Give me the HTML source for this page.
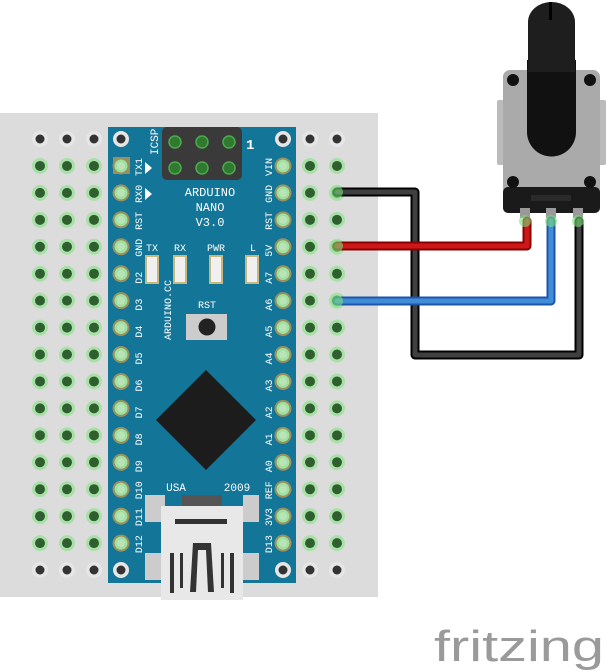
<!DOCTYPE html>
<html><head><style>body{margin:0;background:#fff}svg{display:block}</style></head><body>
<svg width="606" height="672" viewBox="0 0 606 672" xmlns="http://www.w3.org/2000/svg" font-family="Liberation Mono, monospace">
<defs>
<g id="gh"><circle r="8" fill="#e6e6e6"/><circle r="4.5" fill="#333"/></g>
<g id="gr"><circle r="8" fill="#a8e0a8"/><circle r="5" fill="#2f5e2f"/></g>
<g id="bp"><circle r="8.5" fill="#9c8f5e"/><circle r="6.5" fill="#9ee09e"/><circle r="4" fill="#b8e4b8"/></g>
</defs>
<rect x="0" y="113" width="378" height="484" fill="#dcdcdc"/>
<g>
<use href="#gh" x="40" y="139"/><use href="#gh" x="67" y="139"/><use href="#gh" x="94" y="139"/><use href="#gh" x="310" y="139"/><use href="#gh" x="337" y="139"/>
<use href="#gh" x="40" y="570"/><use href="#gh" x="67" y="570"/><use href="#gh" x="94" y="570"/><use href="#gh" x="310" y="570"/><use href="#gh" x="337" y="570"/>
</g>
<g id="greens"></g>
<rect x="108" y="127" width="188" height="456" fill="#137597"/>
<circle cx="121" cy="139" r="8" fill="#e6e6e6"/><circle cx="121" cy="139" r="4.5" fill="#333"/>
<circle cx="283" cy="139" r="8" fill="#e6e6e6"/><circle cx="283" cy="139" r="4.5" fill="#333"/>
<circle cx="121" cy="570" r="8" fill="#e6e6e6"/><circle cx="121" cy="570" r="4.5" fill="#333"/>
<circle cx="283" cy="570" r="8" fill="#e6e6e6"/><circle cx="283" cy="570" r="4.5" fill="#333"/>
<rect x="113" y="157" width="17" height="17" fill="#9c8f5e"/>
<g id="pins"></g>
<rect x="162" y="127" width="80" height="53" rx="5" fill="#3a3a3a"/>
<g fill="#2f7a2f" stroke="#4caa4c" stroke-width="1.5"><circle cx="175" cy="142" r="6"/><circle cx="202" cy="142" r="6"/><circle cx="229" cy="142" r="6"/><circle cx="175" cy="168" r="6"/><circle cx="202" cy="168" r="6"/><circle cx="229" cy="168" r="6"/></g>
<g fill="#fff" font-size="11">
<text transform="translate(158,155) rotate(-90)">ICSP</text>
<text x="246" y="149" font-size="14" font-weight="bold">1</text>
<text x="210" y="196" text-anchor="middle" font-size="12">ARDUINO</text>
<text x="210" y="211" text-anchor="middle" font-size="12">NANO</text>
<text x="210" y="226" text-anchor="middle" font-size="12">V3.0</text>
<text x="152" y="251" text-anchor="middle" font-size="10">TX</text>
<text x="180" y="251" text-anchor="middle" font-size="10">RX</text>
<text x="216" y="251" text-anchor="middle" font-size="10">PWR</text>
<text x="253" y="251" text-anchor="middle" font-size="10">L</text>
<text x="207" y="308" text-anchor="middle" font-size="10">RST</text>
<text transform="translate(171,340) rotate(-90)" font-size="10">ARDUINO.CC</text>
<text x="176" y="491" text-anchor="middle" font-size="11">USA</text>
<text x="237" y="491" text-anchor="middle" font-size="11">2009</text>
<polygon points="145,162 152,168 145,174"/><polygon points="145,188 152,194 145,200"/>
</g>
<g fill="#f0f0f0" stroke="#c8b880" stroke-width="2"><rect x="146" y="256" width="12" height="27"/><rect x="174" y="256" width="12" height="27"/><rect x="210" y="256" width="12" height="27"/><rect x="246" y="256" width="12" height="27"/></g>
<rect x="186" y="314" width="41" height="26" fill="#ccc"/><circle cx="207" cy="327" r="8.5" fill="#222"/>
<polygon points="206,370 256,420 206,470 156,420" fill="#1c1c1c"/>
<g fill="#ccc"><rect x="145" y="495" width="20" height="27"/><rect x="243" y="495" width="16" height="27"/><rect x="145" y="553" width="20" height="27"/><rect x="243" y="553" width="16" height="27"/></g>
<rect x="182" y="495" width="40" height="13" fill="#555"/>
<rect x="161" y="506" width="82" height="94" fill="#e8e8e8"/>
<rect x="175" y="519" width="52" height="5" fill="#333"/>
<polygon points="193,543 211,543 214,592 208,592 206,550 198,550 196,592 190,592" fill="#333"/>
<rect x="170" y="553" width="4" height="40" fill="#333"/><rect x="230" y="553" width="4" height="40" fill="#333"/>
<rect x="180" y="553" width="3" height="35" fill="#333"/><rect x="221" y="553" width="3" height="35" fill="#333"/>
<g id="labels" fill="#fff" font-size="10"></g>
<rect x="497" y="100" width="8" height="65" rx="2" fill="#bbb"/><rect x="598" y="100" width="8" height="65" rx="2" fill="#bbb"/>
<rect x="503" y="70" width="97" height="143" rx="7" fill="#aaa"/>
<rect x="503" y="187" width="97" height="26" rx="5" fill="#1a1a1a"/>
<rect x="531" y="195" width="40" height="6" fill="#2a2a2a"/>
<g fill="#111"><circle cx="513" cy="80" r="6"/><circle cx="590" cy="80" r="6"/><circle cx="513" cy="182" r="6"/><circle cx="590" cy="182" r="6"/></g>
<path d="M527,60 H576 V132 A24.5,24.5 0 0 1 527,132 Z" fill="#111"/>
<path d="M528,22 A23.5,20 0 0 1 575,22 V72 H528 Z" fill="#1e1e1e"/>
<rect x="549" y="2" width="3" height="18" fill="#000"/>
<rect x="520" y="208" width="10" height="10" fill="#999"/><rect x="546" y="208" width="10" height="10" fill="#999"/><rect x="573" y="208" width="10" height="10" fill="#999"/>
<g fill="none" stroke-linejoin="round" stroke-linecap="round">
<polyline points="337,192 415,192 415,355 579,355 579,221" stroke="#000" stroke-width="9"/>
<polyline points="337,192 415,192 415,355 579,355 579,221" stroke="#404040" stroke-width="5"/>
<polyline points="337,246 527,246 527,221" stroke="#8a0000" stroke-width="9"/>
<polyline points="337,246 527,246 527,221" stroke="#cc1818" stroke-width="5"/>
<polyline points="337,301 551,301 551,221" stroke="#1c56a8" stroke-width="9"/>
<polyline points="337,301 551,301 551,221" stroke="#418cd8" stroke-width="5"/>
</g>
<g fill="#7be07b" opacity="0.6"><circle cx="337" cy="192" r="6"/><circle cx="337" cy="246" r="6"/><circle cx="337" cy="301" r="6"/><circle cx="525" cy="221" r="6"/><circle cx="551" cy="221" r="6"/><circle cx="578" cy="221" r="6"/></g>
<text x="434" y="661" font-family="Liberation Sans, sans-serif" font-size="44" fill="#9a9a9a" textLength="170" lengthAdjust="spacingAndGlyphs">fritzing</text>
</svg>
<script>
(function(){
var ns="http://www.w3.org/2000/svg";
function use(id,x,y,parent){var u=document.createElementNS(ns,"use");u.setAttribute("href","#"+id);u.setAttribute("x",x);u.setAttribute("y",y);parent.appendChild(u);}
var g=document.getElementById("greens"),p=document.getElementById("pins"),l=document.getElementById("labels");
var L=["TX1","RX0","RST","GND","D2","D3","D4","D5","D6","D7","D8","D9","D10","D11","D12"];
var R=["VIN","GND","RST","5V","A7","A6","A5","A4","A3","A2","A1","A0","REF","3V3","D13"];
for(var i=1;i<16;i++){var y=139+i*26.94;
[40,67,94,310,337].forEach(function(x){use("gr",x,y,g);});
use("bp",121,y,p);use("bp",283,y,p);
var t=document.createElementNS(ns,"text");t.setAttribute("transform","translate(142,"+(y+10)+") rotate(-90)");t.textContent=L[i-1];l.appendChild(t);
var t2=document.createElementNS(ns,"text");t2.setAttribute("transform","translate(272,"+(y+10)+") rotate(-90)");t2.textContent=R[i-1];l.appendChild(t2);}
})();
</script>
</body></html>
